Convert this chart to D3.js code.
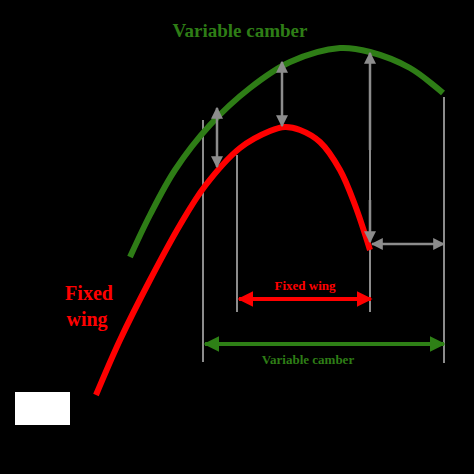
<!DOCTYPE html>
<html lang="en">
<head>
<meta charset="utf-8">
<script src="https://cdn.jsdelivr.net/npm/d3@7"></script>
<style>body{margin:0;background:#000;}</style>
</head>
<body>
<script>
// curve points (x, y in a 0..474 frame)
var greenX = [130, 150, 175, 210, 250, 290, 340, 370, 410, 443];
var greenY = [257, 215, 170, 125, 88, 62, 48, 52, 68, 93];
var redX = [96, 120, 150, 180, 205, 240, 270, 285, 300, 320, 340, 355, 370];
var redY = [395, 340, 280, 225, 186, 148, 131, 127, 130, 142, 170, 205, 250];
var guideX = [203, 237, 370, 444];
var guideTop = [120, 155, 58, 97];
var guideBottom = [362, 312, 312, 363];

var W = 474, H = 474;
var x = d3.scaleLinear().domain([0, 474]).range([0, W]);
var y = d3.scaleLinear().domain([0, 474]).range([0, H]);

var svg = d3.select("body").append("svg").attr("width", W).attr("height", H);
svg.append("rect").attr("width", W).attr("height", H).attr("fill", "#000");

var defs = svg.append("defs");
function marker(id, color, size) {
  defs.append("marker").attr("id", id).attr("viewBox", "0 0 10 10")
    .attr("refX", 9).attr("refY", 5).attr("markerWidth", size).attr("markerHeight", size)
    .attr("orient", "auto-start-reverse").attr("markerUnits", "userSpaceOnUse")
    .append("path").attr("d", "M0,0L10,5L0,10z").attr("fill", color);
}
marker("ag", "#8c8c8c", 12);
marker("ar", "#ff0000", 16);
marker("agr", "#2e8016", 16);

// guide lines
guideX.forEach(function(g, i) {
  svg.append("line").attr("x1", x(g)).attr("x2", x(g))
    .attr("y1", y(guideTop[i])).attr("y2", y(guideBottom[i]))
    .attr("stroke", "#8c8c8c").attr("stroke-width", 2);
});

var line = d3.line().x(function(d) { return x(d[0]); }).y(function(d) { return y(d[1]); })
  .curve(d3.curveCatmullRom);

svg.append("path").datum(d3.zip(greenX, greenY)).attr("d", line)
  .attr("fill", "none").attr("stroke", "#2e7d16").attr("stroke-width", 6);
svg.append("path").datum(d3.zip(redX, redY)).attr("d", line)
  .attr("fill", "none").attr("stroke", "#ff0000").attr("stroke-width", 6);

function arrow(x1, y1, x2, y2, color, w, m, both) {
  var l = svg.append("line").attr("x1", x(x1)).attr("y1", y(y1)).attr("x2", x(x2)).attr("y2", y(y2))
    .attr("stroke", color).attr("stroke-width", w).attr("marker-end", "url(#" + m + ")");
  if (both) l.attr("marker-start", "url(#" + m + ")");
}
arrow(217, 108, 217, 167, "#8c8c8c", 2.5, "ag", true);
arrow(282, 62, 282, 126, "#8c8c8c", 2.5, "ag", true);
arrow(370, 150, 370, 53, "#8c8c8c", 2.5, "ag", false);
arrow(370, 200, 370, 242, "#8c8c8c", 2.5, "ag", false);
arrow(372, 244, 444, 244, "#8c8c8c", 2.5, "ag", true);
arrow(239, 299, 371, 299, "#ff0000", 4, "ar", true);
arrow(205, 344, 444, 344, "#2e8016", 4, "agr", true);

function label(t, tx, ty, color, size) {
  svg.append("text").attr("x", x(tx)).attr("y", y(ty)).attr("text-anchor", "middle")
    .attr("font-family", "Liberation Serif").attr("font-weight", "bold")
    .attr("font-size", size).attr("fill", color).text(t);
}
label("Variable camber", 240, 37, "#2e7d16", 19);
label("Fixed wing", 305, 290, "#ff0000", 13);
label("Variable camber", 308, 364, "#2e7d16", 13);
label("Fixed", 89, 300, "#ff0000", 20);
label("wing", 87, 326, "#ff0000", 20);

svg.append("rect").attr("x", 15).attr("y", 392).attr("width", 55).attr("height", 33).attr("fill", "#fff");
</script>
</body>
</html>
